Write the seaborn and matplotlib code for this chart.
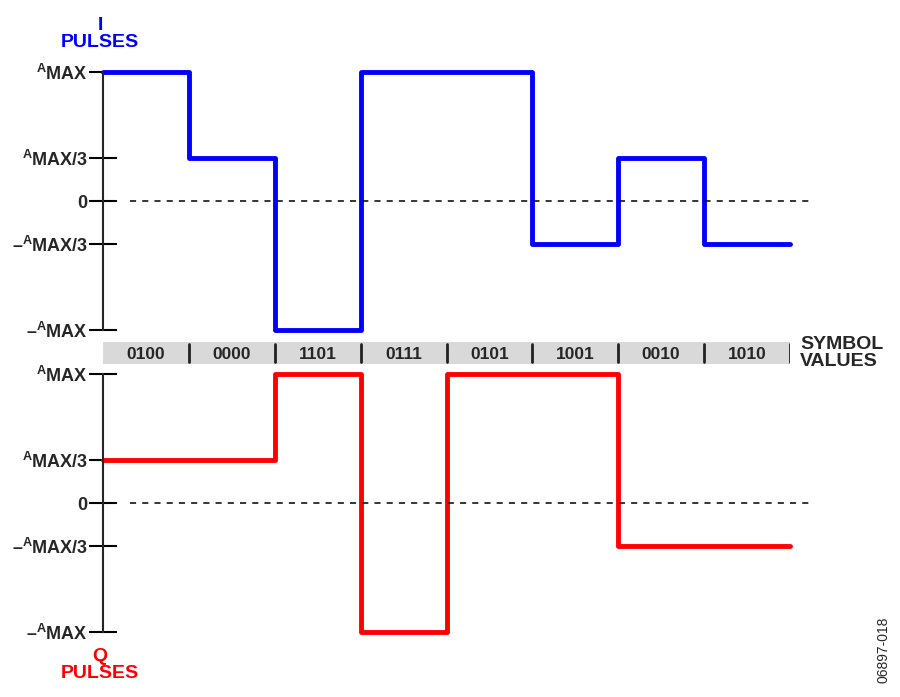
import numpy as np
import pandas as pd
import matplotlib
matplotlib.use("Agg")
import matplotlib.pyplot as plt
import seaborn as sns

sns.set_style("white")
plt.rcParams["font.family"] = ["Liberation Sans", "DejaVu Sans"]
plt.rcParams["font.weight"] = "bold"
plt.rcParams["mathtext.fontset"] = "custom"
plt.rcParams["mathtext.bf"] = "Liberation Sans:bold"
plt.rcParams["mathtext.rm"] = "Liberation Sans:bold"

symbols = ["0100", "0000", "1101", "0111", "0101", "1001", "0010", "1010"]
i_levels = [1, 1/3, -1, 1, 1, -1/3, 1/3, -1/3]
q_levels = [1/3, 1/3, 1, -1, 1, 1, -1/3, -1/3]
tick_vals = [-1, -1/3, 0, 1/3, 1]
tick_labels = [r"–$^{\mathbf{A}}$MAX", r"–$^{\mathbf{A}}$MAX/3", "0",
               r"$^{\mathbf{A}}$MAX/3", r"$^{\mathbf{A}}$MAX"]

W, H = 900, 697
fig = plt.figure(figsize=(9, 6.97), dpi=100)

def px_axes(x0, y0, x1, y1):
    return fig.add_axes([x0 / W, 1 - y1 / H, (x1 - x0) / W, (y1 - y0) / H])

def pulse_axes(ax, levels, color):
    df = pd.DataFrame({"t": np.arange(len(levels) + 1),
                       "v": list(levels) + [levels[-1]]})
    sns.lineplot(data=df, x="t", y="v", ax=ax, color=color, linewidth=3.5,
                 drawstyle="steps-post", clip_on=False)
    ax.axhline(0, xmin=0.04, xmax=1.03, color="black", linestyle=(0, (4, 4)),
               linewidth=1.1, clip_on=False)
    ax.set_xlim(0, len(levels))
    ax.set_ylim(-1, 1)
    ax.set_yticks(tick_vals)
    ax.set_yticklabels(tick_labels, fontsize=13, fontweight="bold")
    ax.set_xticks([])
    ax.set_xlabel("")
    ax.set_ylabel("")
    for s in ["top", "right", "bottom"]:
        ax.spines[s].set_visible(False)
    ax.spines["left"].set_linewidth(1.5)
    ax.tick_params(axis="y", left=True, direction="inout", length=20,
                   width=1.5, pad=1, color="black")

ax_i = px_axes(103, 72, 790, 330)
pulse_axes(ax_i, i_levels, "#0000ff")
ax_q = px_axes(103, 374, 790, 632)
pulse_axes(ax_q, q_levels, "#ff0000")

# symbol strip
ax_s = px_axes(103, 342, 790, 364)
ax_s.set_xlim(0, len(symbols))
ax_s.set_ylim(0, 1)
ax_s.axvspan(0, len(symbols), color="#d9d9d9")
for k, s in enumerate(symbols):
    ax_s.text(k + 0.5, 0.45, s, ha="center", va="center", fontsize=12.5, fontweight="bold")
    if k > 0:
        ax_s.axvline(k, ymin=0.1, ymax=0.9, color="#222222", linewidth=2)
ax_s.axvline(len(symbols), ymin=0.1, ymax=0.9, color="#222222", linewidth=2)
ax_s.axis("off")

fig.text(800 / W, 1 - 353 / H, "SYMBOL\nVALUES", ha="left", va="center",
         fontsize=14, fontweight="bold", linespacing=1.05)
fig.text(100 / W, 1 - 34 / H, "I\nPULSES", ha="center", va="center",
         fontsize=14, fontweight="bold", color="#0000ff", linespacing=1.05)
fig.text(100 / W, 1 - 665 / H, "Q\nPULSES", ha="center", va="center",
         fontsize=14, fontweight="bold", color="#ff0000", linespacing=1.05)
fig.text(883 / W, 1 - 650 / H, "06897-018", ha="center", va="center",
         rotation=90, fontsize=10, fontweight="normal")

fig.savefig("out.png", dpi=100)
